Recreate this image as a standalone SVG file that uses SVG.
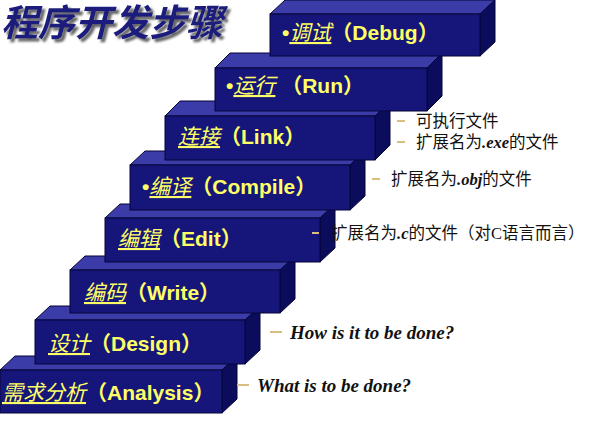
<svg xmlns="http://www.w3.org/2000/svg" width="600" height="424" viewBox="0 0 600 424">
<defs><filter id="sh" x="-5%" y="-20%" width="115%" height="150%"><feDropShadow dx="3" dy="3" stdDeviation="1" flood-color="#666"/></filter></defs>
<style>
.fr{fill:#16167a;stroke:#05053a;stroke-width:1}
.tp{fill:#3c3ca8;stroke:#05053a;stroke-width:1}
.sd{fill:#0c0c5c;stroke:#05053a;stroke-width:1}
.lb{font-family:"Liberation Sans","Noto Sans CJK SC",sans-serif;font-size:21px;font-weight:bold;fill:#ffff66}
.cn{font-style:italic;font-weight:normal;text-decoration:underline}
.an{font-family:"Liberation Serif","Noto Sans CJK SC",serif;font-size:16.5px;fill:#111}
.en{font-family:"Liberation Serif",serif;font-size:19px;font-weight:bold;font-style:italic;fill:#111}
.ds{stroke:#d8bf80;stroke-width:2}
</style>
<rect width="600" height="424" fill="#fff"/>
<text x="1" y="36" filter="url(#sh)" font-family="Liberation Sans,Noto Sans CJK SC,sans-serif" font-size="37" font-weight="bold" font-style="italic" fill="#1c1c7c">程序开发步骤</text>
<g id="analysis"><polygon class="tp" points="0,370 15,356 237,356 222,370"/><polygon class="sd" points="222,370 237,356 237,399 222,413"/><rect class="fr" x="0" y="370" width="222" height="43"/><text class="lb" x="2" y="400"><tspan class="cn">需求分析</tspan>（Analysis）</text></g>
<g id="design"><polygon class="tp" points="35,320 50,306 260,306 245,320"/><polygon class="sd" points="245,320 260,306 260,350 245,364"/><rect class="fr" x="35" y="320" width="210" height="44"/><text class="lb" x="48" y="351"><tspan class="cn">设计</tspan>（Design）</text></g>
<g id="write"><polygon class="tp" points="70,270 85,256 295,256 280,270"/><polygon class="sd" points="280,270 295,256 295,299 280,313"/><rect class="fr" x="70" y="270" width="210" height="43"/><text class="lb" x="84" y="300"><tspan class="cn">编码</tspan>（Write）</text></g>
<g id="edit"><polygon class="tp" points="105,218 120,204 335,204 320,218"/><polygon class="sd" points="320,218 335,204 335,248 320,262"/><rect class="fr" x="105" y="218" width="215" height="44"/><text class="lb" x="118" y="246"><tspan class="cn">编辑</tspan>（Edit）</text></g>
<g id="compile"><polygon class="tp" points="130,165 145,151 365,151 350,165"/><polygon class="sd" points="350,165 365,151 365,196 350,210"/><rect class="fr" x="130" y="165" width="220" height="45"/><text class="lb" x="142" y="194">•<tspan class="cn">编译</tspan>（Compile）</text></g>
<g id="link"><polygon class="tp" points="165,116 180,101 390,101 375,116"/><polygon class="sd" points="375,116 390,101 390,145 375,160"/><rect class="fr" x="165" y="116" width="210" height="44"/><text class="lb" x="178" y="144"><tspan class="cn">连接</tspan>（Link）</text></g>
<g id="run"><polygon class="tp" points="215,68 230,53 442,53 427,68"/><polygon class="sd" points="427,68 442,53 442,96 427,111"/><rect class="fr" x="215" y="68" width="212" height="43"/><text class="lb" x="226" y="93">•<tspan class="cn">运行</tspan> （Run）</text></g>
<g id="debug"><polygon class="tp" points="270,14 285,0 495,0 480,14"/><polygon class="sd" points="480,14 495,0 495,42 480,56"/><rect class="fr" x="270" y="14" width="210" height="42"/><text class="lb" x="282" y="40">•<tspan class="cn">调试</tspan>（Debug）</text></g>
<g id="connectors">
<line class="ds" x1="397" y1="121" x2="405" y2="121"/><line class="ds" x1="397" y1="142" x2="405" y2="142"/>
<line class="ds" x1="372" y1="179" x2="380" y2="179"/>
<line class="ds" x1="312" y1="233" x2="319" y2="233"/>
<line class="ds" x1="270" y1="332" x2="282" y2="332"/>
<line class="ds" x1="237" y1="385" x2="249" y2="385"/>
</g>
<text class="an" x="416" y="127">可执行文件</text>
<text class="an" x="416" y="148">扩展名为<tspan font-style="italic" font-weight="bold">.exe</tspan>的文件</text>
<text class="an" x="391" y="185">扩展名为<tspan font-style="italic" font-weight="bold">.obj</tspan>的文件</text>
<text class="an" x="331" y="239">扩展名为<tspan font-style="italic" font-weight="bold">.c</tspan>的文件（对C语言而言）</text>
<text class="en" x="290" y="339">How is it to be done?</text>
<text class="en" x="257" y="392">What is to be done?</text>
</svg>
